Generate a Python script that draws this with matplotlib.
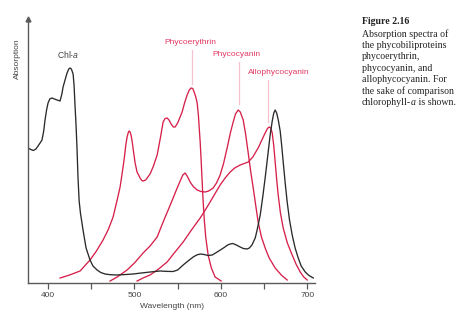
import numpy as np
import matplotlib
import matplotlib.pyplot as plt

matplotlib.use('Agg')

# absorption spectra (wavelength nm, absorption arb. units)
chl_nm = [377, 380, 383, 386, 390, 393, 395, 396.5, 398.3, 400, 402, 404.6, 407.5, 410.4,
          413.9, 416, 417.4, 420, 422, 424, 425.5, 427, 429, 430.1, 431.2, 432.4, 433.6,
          434.7, 436, 437.5, 440.5, 444, 448.6, 452, 456.8, 461, 466, 472, 479.9, 490,
          498.5, 508, 518.1, 529.7, 538, 544.8, 550, 556.4, 562, 568, 572, 576.1, 580,
          585.3, 590, 595.8, 603, 608, 610.8, 614, 618, 622.4, 626, 630.5, 633, 636,
          639.8, 642, 645.6, 648.5, 651.3, 654, 657.1, 659.5, 661.3, 662.9, 664.6, 666.5,
          668.7, 670.5, 672.2, 674.5, 676.8, 679.5, 682.6, 686, 689.6, 693, 697.7, 702, 707]
chl_abs = [135, 133.5, 132.5, 134, 139, 143, 152, 163, 173, 180, 184, 185, 184, 183,
           182, 189, 196, 204, 210, 214, 215, 214, 209, 198, 178, 158, 133,
           105, 82, 70, 53, 35, 23, 17, 13, 10.5, 9, 8.3, 8, 8.5,
           9, 10, 11, 12, 11.6, 11.5, 13, 18, 22, 26, 28, 29, 28.6,
           27.5, 28, 31, 35, 38, 39, 39.5, 38, 36, 34.5, 34, 35, 38,
           45, 53, 68, 86, 105, 125, 148, 162, 170, 173, 170, 163,
           152, 137, 121, 100, 81, 63, 48, 35, 25, 17, 11, 7.5, 5]

pe_nm = [413.9, 425, 437.1, 448.6, 456, 463.7, 470, 475.3, 480, 483.4, 486, 488, 490,
         491.5, 492.7, 493.8, 495, 496.3, 497.3, 499, 500.8, 503, 506.6, 508.5, 510, 513,
         518.1, 522, 526.3, 530, 533.2, 535.5, 537.8, 540, 542.5, 545, 547.1, 550, 555.2,
         558, 561, 563.5, 565.5, 567.5, 569.5, 571, 572.6, 574, 575, 576.1, 577.3, 578.4,
         579.5, 580.7, 582.5, 585.3, 589, 593.4, 600.4]
pe_abs = [5, 8, 12, 23, 32, 43, 54, 66, 83, 96, 111, 123, 138,
          146, 150, 152, 151, 147, 142, 131, 120, 111, 105, 102.5, 102, 103,
          109, 117, 128, 145, 161, 164.5, 165, 163, 159, 156, 156, 160, 171,
          180, 188, 193, 195, 194.5, 190, 186, 180, 168, 155, 141, 121, 101,
          82, 65, 46, 28, 15, 6, 2]

pc_nm = [471.8, 480, 491.5, 500, 510, 518.1, 526.3, 533.2, 540, 544.8, 549, 552.9, 556,
         558.7, 561, 564.5, 568, 572.6, 577, 581.9, 586, 591.1, 595, 599.2, 603, 607.3,
         611, 614.3, 617, 620.1, 622.5, 625.9, 628.5, 631.7, 634.5, 637.5, 640.5, 643.2,
         647, 651.3, 656, 662.9, 670, 676.8]
pc_abs = [2, 6, 13, 20, 30, 37, 46, 61, 75, 85, 94, 102, 108,
          110, 107, 101, 96.5, 93, 91.5, 91, 92, 95, 100, 108, 119, 135,
          150, 161, 169, 173, 171, 163, 150, 130, 112, 95, 77, 61,
          46, 35, 25, 15, 8, 3]

apc_nm = [503.1, 510, 518.1, 528, 537.8, 547, 556.4, 566, 576.1, 582, 587.6, 593, 599.2,
          605, 610.8, 616, 622.4, 627, 631.7, 637, 643.2, 647.5, 651.3, 654, 656, 657.8,
          659.5, 661.3, 662.9, 664.6, 666.4, 669, 672.2, 677, 682.6, 687, 691.9, 696, 700]
apc_abs = [2, 5, 8, 14, 21, 31, 41, 53, 65, 73, 81, 89, 98,
           105, 111, 115, 118, 119.5, 121, 126, 135, 143, 150, 154.5, 156, 155,
           150, 137, 121, 104, 88, 70, 55, 40, 28, 19, 11, 6, 3]

labels = ['Phycoerythrin', 'Phycocyanin', 'Allophycocyanin']
label_x = [564.5, 617.8, 667.6]
label_y = [241, 228, 210]
leader_x = [566.8, 621.2, 654.8]
leader_top = [233, 221, 203]
leader_bot = [199, 179, 161]

caption = ['Absorption spectra of', 'the phycobiliproteins', 'phycoerythrin,',
           'phycocyanin, and', 'allophycocyanin. For', 'the sake of comparison']

RED = '#d6204a'
LABEL_RED = '#e23a63'
DARK = '#2a2a2a'
AXIS = '#5a5a5a'

plt.rcParams['font.family'] = ['Liberation Sans', 'DejaVu Sans']
plt.rcParams['mathtext.fontset'] = 'custom'
plt.rcParams['mathtext.it'] = 'Liberation Sans:italic'

fig = plt.figure(figsize=(4.74, 3.16), dpi=100)
ax = fig.add_axes([28 / 474, 33 / 316, 287 / 474, 264 / 316])

for xs, ys in [(pe_nm, pe_abs), (pc_nm, pc_abs), (apc_nm, apc_abs)]:
    ax.plot(xs, ys, color=RED, lw=0.95, solid_joinstyle='round')
ax.plot(chl_nm, chl_abs, color=DARK, lw=0.95, solid_joinstyle='round')

for name, tx, ty, lx, lt, lb in zip(labels, label_x, label_y, leader_x, leader_top, leader_bot):
    ax.text(tx, ty, name, color=LABEL_RED, fontsize=6, ha='center', va='center')
    ax.plot([lx, lx], [lb, lt], color='#f5c3cf', lw=0.9)

ax.text(423.2, 228, 'Chl-$a$', color='#444444', fontsize=6.2, ha='center', va='center')

ax.set_xlim(376.8, 709)
ax.set_ylim(0, 264)
ax.set_xticks([400, 500, 600, 700])
ax.set_xticks([450, 550, 650], minor=True)
ax.set_yticks([])
ax.tick_params(axis='x', which='both', direction='out', length=4, width=0.9,
               color=AXIS, labelsize=6, labelcolor='#444444', pad=2.5)
for side in ['top', 'right']:
    ax.spines[side].set_visible(False)
ax.spines['bottom'].set_color(AXIS)
ax.spines['left'].set_color(AXIS)
ax.spines['bottom'].set_linewidth(1.0)
ax.spines['left'].set_linewidth(1.0)
ax.plot([0], [1], marker='^', color=AXIS, ms=3.5, transform=ax.transAxes, clip_on=False)

ax.set_xlabel('Wavelength (nm)', fontsize=6, color='#444444', labelpad=3)
fig.text(17 / 474, 1 - 59 / 316, 'Absorption', rotation=90, fontsize=6,
         color='#444444', ha='center', va='center')

serif = 'Liberation Serif'
fig.text(362 / 474, 1 - 22 / 316, 'Figure 2.16', family=serif,
         fontweight='bold', fontsize=7.1, color='#222222', va='center')
for i, line in enumerate(caption):
    fig.text(362 / 474, 1 - (34 + 11.4 * i) / 316, line, family=serif,
             fontsize=7.1, color='#222222', va='center')
last_y = 1 - (34 + 11.4 * len(caption)) / 316
t1 = fig.text(362 / 474, last_y, 'chlorophyll-', family=serif, fontsize=7.1,
              color='#222222', va='center')
fig.canvas.draw()
bb = t1.get_window_extent().transformed(fig.transFigure.inverted())
t2 = fig.text(bb.x1, last_y, 'a', family=serif, style='italic', fontsize=7.1,
              color='#222222', va='center')
bb2 = t2.get_window_extent(fig.canvas.get_renderer()).transformed(fig.transFigure.inverted())
fig.text(bb2.x1, last_y, ' is shown.', family=serif, fontsize=7.1,
         color='#222222', va='center')

fig.savefig('out.png', dpi=100)
